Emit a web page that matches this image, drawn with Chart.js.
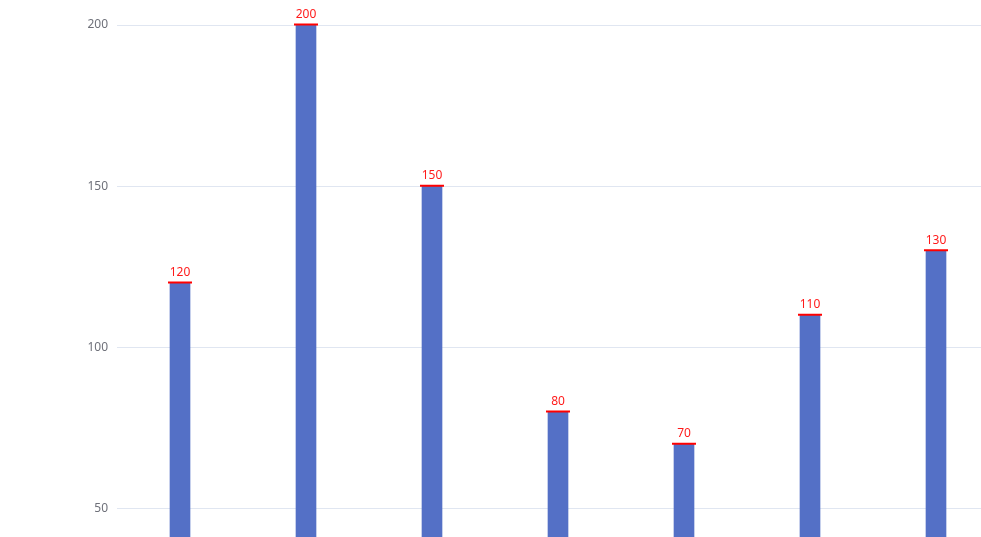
<!DOCTYPE html>
<html>
<head>
<meta charset="utf-8">
<script src="https://cdn.jsdelivr.net/npm/chart.js@4.4.1/dist/chart.umd.min.js"></script>
<style>
    html, body { margin: 0; padding: 0; overflow: hidden; background: #fff; }
    #wrap { position: absolute; left: 0; top: 0; width: 999px; height: 702px; }
</style>
</head>
<body>
<div id="wrap"><canvas id="chart"></canvas></div>
<script>
const categories = ['Mon', 'Tue', 'Wed', 'Thu', 'Fri', 'Sat', 'Sun'];
const values = [120, 200, 150, 80, 70, 110, 130];
const yTicks = [0, 50, 100, 150, 200];

const FONT = '"Noto Sans", "Liberation Sans", sans-serif';

// red cap line + value label on top of each bar
const topMarker = {
    id: 'topMarker',
    afterDatasetsDraw(chart) {
        const ctx = chart.ctx;
        const meta = chart.getDatasetMeta(0);
        ctx.save();
        ctx.strokeStyle = '#ff0000';
        ctx.lineWidth = 2;
        ctx.fillStyle = '#ff1a1a';
        ctx.font = '12px ' + FONT;
        ctx.textAlign = 'center';
        ctx.textBaseline = 'alphabetic';
        meta.data.forEach((bar, i) => {
            ctx.beginPath();
            ctx.moveTo(bar.x - 12, bar.y - 0.5);
            ctx.lineTo(bar.x + 12, bar.y - 0.5);
            ctx.stroke();
            ctx.fillText(String(values[i]), bar.x, bar.y - 7);
        });
        ctx.restore();
    }
};

new Chart(document.getElementById('chart'), {
    type: 'bar',
    data: {
        labels: categories,
        datasets: [{
            data: values,
            backgroundColor: '#5470c6',
            barThickness: 20,
            borderWidth: 0
        }]
    },
    options: {
        responsive: true,
        maintainAspectRatio: false,
        animation: false,
        layout: {padding: {top: 25, right: 0, bottom: 0, left: 0}},
        plugins: {
            legend: {display: false},
            tooltip: {enabled: false}
        },
        scales: {
            x: {
                grid: {display: false},
                border: {color: '#6e7079'},
                ticks: {color: '#6e7079', font: {size: 12, family: FONT}},
                afterFit(scale) { scale.height = 32; }
            },
            y: {
                min: 0,
                max: 200,
                afterBuildTicks(scale) { scale.ticks = yTicks.map(v => ({value: v})); },
                afterFit(scale) { scale.width = 117; },
                border: {display: false},
                grid: {color: '#e0e6f1', drawTicks: false},
                ticks: {color: '#6e7079', padding: 9, font: {size: 12, family: FONT}}
            }
        }
    },
    plugins: [topMarker]
});
</script>
</body>
</html>
